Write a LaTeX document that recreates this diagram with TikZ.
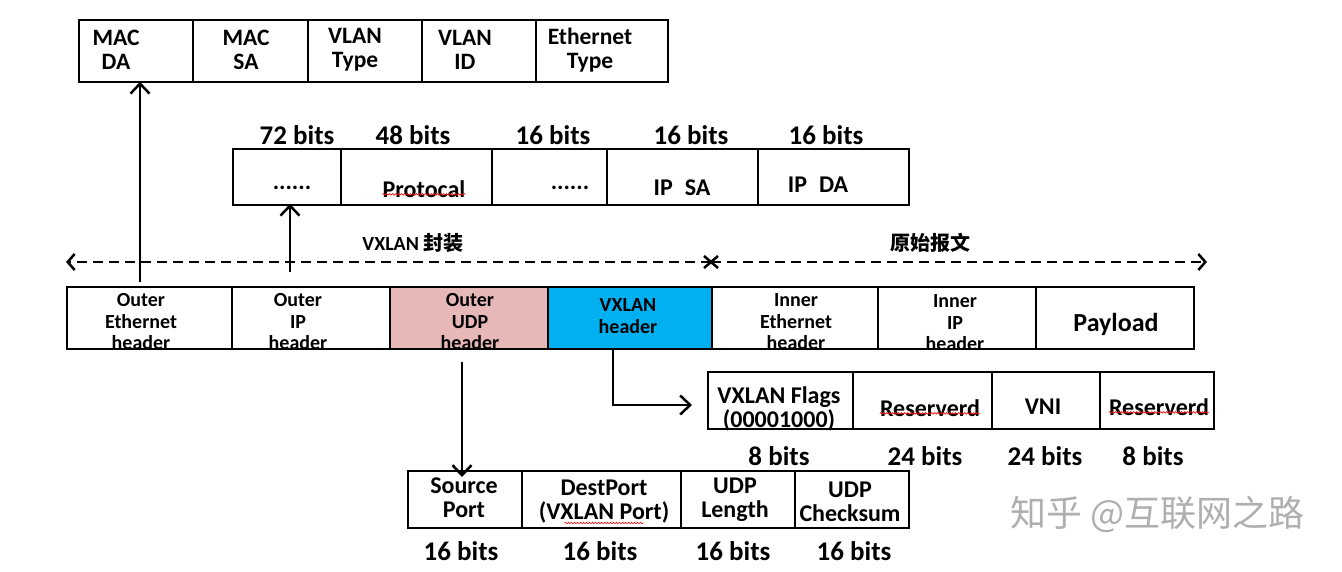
\documentclass[tikz,border=0pt]{standalone}
\usepackage{fontspec}
\setmainfont{Carlito}
\newfontfamily\cjk{Noto Sans CJK SC}
\usetikzlibrary{arrows.meta,decorations.pathmorphing}
\definecolor{pinkfill}{RGB}{230,184,183}
\definecolor{bluefill}{RGB}{0,176,240}
\definecolor{wmgray}{RGB}{175,175,175}
\begin{document}
\begin{tikzpicture}[x=1pt,y=-1pt,
  cell/.style={draw, line width=1.8pt, anchor=north west, inner sep=0pt},
  lbl/.style={font=\bfseries\fontsize{#1}{#1}\selectfont, align=center, inner sep=0pt},
  lbl/.default=24,
  rowlbl/.style={font=\bfseries\fontsize{20}{21.5}\selectfont, align=center, inner sep=0pt},
  twolbl/.style={font=\bfseries\fontsize{#1}{24}\selectfont, align=center, inner sep=0pt},
  bitslbl/.style={font=\bfseries\fontsize{27}{27}\selectfont, inner sep=0pt},
  arr/.style={line width=2.5pt, -{Straight Barb[length=10pt,width=19pt,line width=2.5pt]}},
  dasharr/.style={line width=2.8pt, dash pattern=on 10pt off 6pt, -{Straight Barb[length=7pt,width=16pt,line width=2.5pt]}},
  squiggle/.style={red, line width=0.6pt, decorate, decoration={snake, amplitude=0.8pt, segment length=3pt}}
]
\useasboundingbox (0,0) rectangle (1342,571);

% ---- top box: Ethernet fields
\node[cell, minimum width=114, minimum height=62] (t1) at (78,19) {};
\node[cell, minimum width=115, minimum height=62] (t2) at (192,19) {};
\node[cell, minimum width=114, minimum height=62] (t3) at (307,19) {};
\node[cell, minimum width=114, minimum height=62] (t4) at (421,19) {};
\node[cell, minimum width=132, minimum height=62] (t5) at (535,19) {};
\node[twolbl=23.5] (tl1) at (116,50) {MAC\\DA};
\node[twolbl=23.5] (tl2) at (246,50) {MAC\\SA};
\node[twolbl=23.5] (tl3) at (355,50) {VLAN\\Type};
\node[twolbl=23.5] (tl4) at (465,50) {VLAN\\ID};
\node[twolbl=23.5] (tl5) at (590,50) {Ethernet\\Type};

% ---- IP header box
\node[bitslbl] (ib1) at (297,135) {72 bits};
\node[bitslbl] (ib2) at (413,135) {48 bits};
\node[bitslbl] (ib3) at (553,135) {16 bits};
\node[bitslbl] (ib4) at (691,135) {16 bits};
\node[bitslbl] (ib5) at (826,135) {16 bits};
\node[cell, minimum width=108, minimum height=56] (s1) at (232,148) {};
\node[cell, minimum width=151, minimum height=56] (s2) at (340,148) {};
\node[cell, minimum width=115, minimum height=56] (s3) at (491,148) {};
\node[cell, minimum width=151, minimum height=56] (s4) at (606,148) {};
\node[cell, minimum width=151, minimum height=56] (s5) at (757,148) {};
\node[lbl] (sl1) at (292,188) {......};
\node[lbl] (sl2) at (424,189) {Protocal};
\node[lbl] (sl3) at (570,188) {......};
\node[lbl] (sl4) at (682,188) {IP\enspace SA};
\node[lbl] (sl5) at (818,185) {IP\enspace DA};
\draw[squiggle] ([yshift=3pt]sl2.base west) -- ([yshift=3pt]sl2.base east);

% ---- dashed range arrows
\coordinate (xm) at (711,262);
\coordinate (dl) at (66,262);
\coordinate (dr) at (1207,262);
\draw[dasharr] (xm) -- (dl);
\draw[dasharr] (xm) -- (dr);
\draw[line width=2.5pt] ([shift={(-7,-6)}]xm) -- ([shift={(7,6)}]xm);
\draw[line width=2.5pt] ([shift={(-7,6)}]xm) -- ([shift={(7,-6)}]xm);
\node[lbl=20] (enc) at (413,243) {VXLAN {\cjk 封装}};
\node[lbl=20] (orig) at (930,243) {\cjk 原始报文};

% ---- main packet row
\node[cell, minimum width=165, minimum height=62] (m1) at (66,286) {};
\node[cell, minimum width=158, minimum height=62] (m2) at (231,286) {};
\node[cell, minimum width=158, minimum height=62, fill=pinkfill] (m3) at (389,286) {};
\node[cell, minimum width=164, minimum height=62, fill=bluefill] (m4) at (547,286) {};
\node[cell, minimum width=166, minimum height=62] (m5) at (711,286) {};
\node[cell, minimum width=158, minimum height=62] (m6) at (877,286) {};
\node[cell, minimum width=158, minimum height=62] (m7) at (1035,286) {};
\begin{scope}
\clip (66,287) rectangle (1193,347.1);
\node[rowlbl] (ml1) at (141,322) {Outer\\Ethernet\\header};
\node[rowlbl] (ml2) at (298,322) {Outer\\IP\\header};
\node[rowlbl] (ml3) at (470,322) {Outer\\UDP\\header};
\node[rowlbl] (ml4) at (628,316) {VXLAN\\header};
\node[rowlbl] (ml5) at (796,322) {Inner\\Ethernet\\header};
\node[rowlbl] (ml6) at (955,323) {Inner\\IP\\header};
\end{scope}
\node[lbl=26] (ml7) at (1116,324) {Payload};

% ---- arrows up to upper boxes
\coordinate (a1) at (140,282);
\coordinate (a2) at (290,272);
\draw[arr] (a1) -- ([yshift=1pt]a1 |- t1.south);
\draw[arr] (a2) -- ([yshift=2pt]a2 |- s1.south);

% ---- VXLAN header fields
\node[cell, minimum width=145, minimum height=57] (v1) at (707,371) {};
\node[cell, minimum width=139, minimum height=57] (v2) at (852,371) {};
\node[cell, minimum width=108, minimum height=57] (v3) at (991,371) {};
\node[cell, minimum width=114, minimum height=57] (v4) at (1099,371) {};
\node[twolbl=24] (vl1) at (779,409) {VXLAN Flags\\(00001000)};
\node[lbl] (vl2) at (930,408) {Reserverd};
\node[lbl] (vl3) at (1043,407) {VNI};
\node[lbl] (vl4) at (1159,407) {Reserverd};
\draw[squiggle] ([yshift=3pt]vl2.base west) -- ([yshift=3pt]vl2.base east);
\draw[squiggle] ([yshift=3pt]vl4.base west) -- ([yshift=3pt]vl4.base east);
\node[bitslbl] (vb1) at (779,456) {8 bits};
\node[bitslbl] (vb2) at (925,456) {24 bits};
\node[bitslbl] (vb3) at (1045,456) {24 bits};
\node[bitslbl] (vb4) at (1153,456) {8 bits};

% ---- UDP header fields
\node[cell, minimum width=114, minimum height=57] (u1) at (407,470) {};
\node[cell, minimum width=159, minimum height=57] (u2) at (521,470) {};
\node[cell, minimum width=114, minimum height=57] (u3) at (680,470) {};
\node[cell, minimum width=114, minimum height=57] (u4) at (794,470) {};
\node[twolbl=24] (ul1) at (464,498) {Source\\Port};
\node[twolbl=24] (ul2) at (604,502) {DestPort\\(VXLAN Port)};
\node[twolbl=24] (ul3) at (735,500) {UDP\\Length};
\node[twolbl=24] (ul4) at (850,502) {UDP\\Checksum};
\draw[squiggle] ([shift={(26,3)}]ul2.base west) -- ([shift={(-26,3)}]ul2.base east);
\node[bitslbl] (ub1) at (461,551) {16 bits};
\node[bitslbl] (ub2) at (600,551) {16 bits};
\node[bitslbl] (ub3) at (733,551) {16 bits};
\node[bitslbl] (ub4) at (854,551) {16 bits};

% ---- arrows down to lower boxes
\coordinate (d1) at (462,362);
\draw[arr] (d1) -- ([yshift=-7pt]d1 |- u1.north);
\coordinate (vb) at (613,405);
\coordinate (ve) at (692,405);
\draw[arr] (vb |- m4.south) -- (vb) -- (ve);

% ---- watermark
\node[font=\cjk\fontsize{36}{36}\selectfont, text=wmgray, anchor=west, inner sep=0pt] (wm) at (1010,514) {知乎\ @互联网之路};
\end{tikzpicture}
\end{document}
